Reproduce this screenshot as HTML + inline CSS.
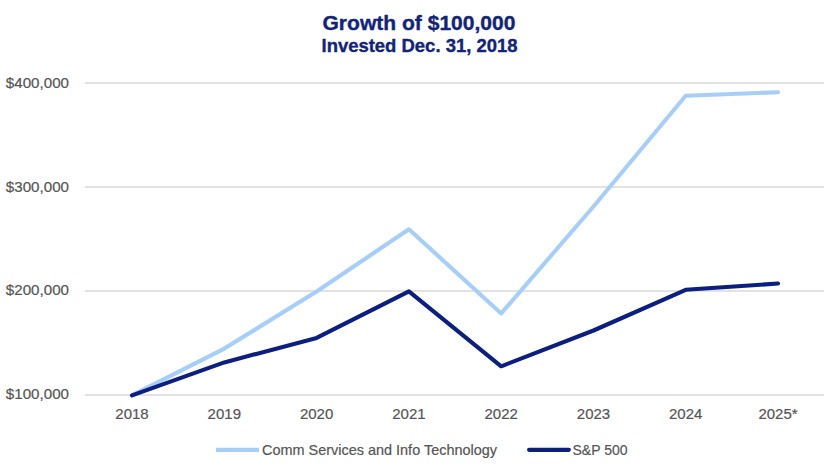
<!DOCTYPE html>
<html><head><meta charset="utf-8">
<style>
html,body{margin:0;padding:0;background:#fff;}
body{width:840px;height:472px;overflow:hidden;}
svg{display:block;}
text{font-family:"Liberation Sans",sans-serif;}
</style></head>
<body>
<svg width="840" height="472" viewBox="0 0 840 472" xmlns="http://www.w3.org/2000/svg">
<rect width="840" height="472" fill="#fff"/>
<g fill="#12247a" stroke="#12247a" stroke-width="0.35" font-weight="bold" text-anchor="middle">
<text x="419" y="29.7" font-size="19.5" textLength="193" lengthAdjust="spacingAndGlyphs">Growth of $100,000</text>
<text x="419.5" y="52.2" font-size="17.8" textLength="196" lengthAdjust="spacingAndGlyphs">Invested Dec. 31, 2018</text>
</g>
<g stroke="#d9d9d9" stroke-width="1.3">
<line x1="85" y1="83" x2="824" y2="83"/>
<line x1="85" y1="187" x2="824" y2="187"/>
<line x1="85" y1="291" x2="824" y2="291"/>
<line x1="85" y1="395" x2="824" y2="395"/>
</g>
<g fill="#555" stroke="#555" stroke-width="0.2" font-size="15.2">
<text x="5.8" y="87.7" textLength="63.2" lengthAdjust="spacingAndGlyphs">$400,000</text>
<text x="5.8" y="191.6" textLength="63.2" lengthAdjust="spacingAndGlyphs">$300,000</text>
<text x="5.8" y="295.4" textLength="63.2" lengthAdjust="spacingAndGlyphs">$200,000</text>
<text x="5.8" y="399.3" textLength="63.2" lengthAdjust="spacingAndGlyphs">$100,000</text>
</g>
<g fill="#555" stroke="#555" stroke-width="0.2" font-size="15" text-anchor="middle">
<text x="132.0" y="418.6">2018</text>
<text x="224.3" y="418.6">2019</text>
<text x="316.6" y="418.6">2020</text>
<text x="408.9" y="418.6">2021</text>
<text x="501.2" y="418.6">2022</text>
<text x="593.5" y="418.6">2023</text>
<text x="685.7" y="418.6">2024</text>
<text x="778.0" y="418.6">2025*</text>
</g>
<g fill="none" stroke-width="4.1" stroke-linecap="round" stroke-linejoin="round">
<polyline stroke="#a6cef8" points="132.0,395.4 224.3,348.6 316.6,291.5 408.9,229.3 501.2,313.4 593.5,206.5 685.7,95.8 778.0,92.2"/>
<polyline stroke="#0c1f80" points="132.0,395.4 224.3,362.4 316.6,337.9 408.9,291.3 501.2,366.3 593.5,330.5 685.7,289.8 778.0,283.5"/>
</g>
<line x1="216" y1="449.8" x2="259" y2="449.8" stroke="#a6cef8" stroke-width="4.2"/>
<line x1="529.1" y1="449.8" x2="568.8" y2="449.8" stroke="#0c1f80" stroke-width="4.2" stroke-linecap="round"/>
<g fill="#555" stroke="#555" stroke-width="0.2" font-size="15">
<text x="262" y="454.5" textLength="235" lengthAdjust="spacingAndGlyphs">Comm Services and Info Technology</text>
<text x="572.5" y="454.5" textLength="55" lengthAdjust="spacingAndGlyphs">S&amp;P 500</text>
</g>
</svg>
</body></html>
